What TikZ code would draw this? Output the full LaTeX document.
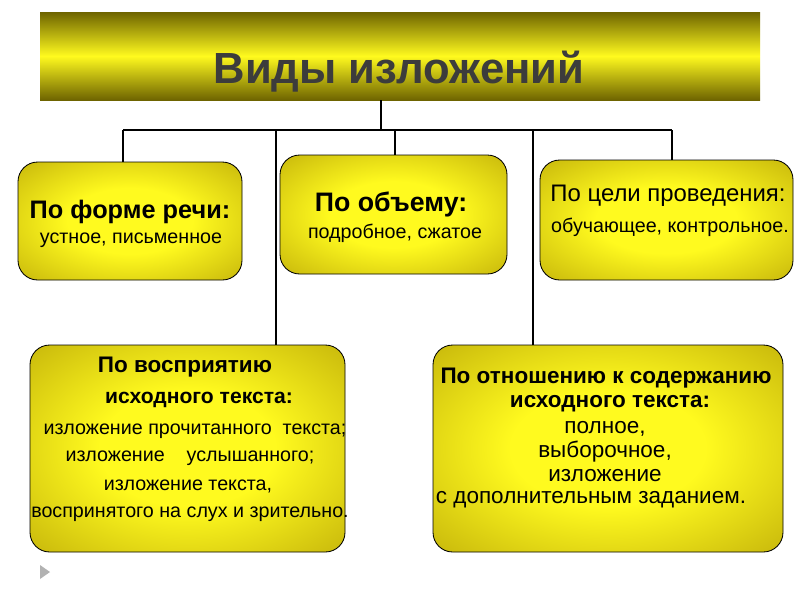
\documentclass[tikz,border=0pt]{standalone}
\usepackage{fontspec}
\setmainfont{Liberation Sans}
\definecolor{goldin}{RGB}{255,250,30}
\definecolor{goldout}{RGB}{110,100,0}
\definecolor{tgray}{RGB}{60,60,60}
\pgfdeclareradialshading{goldrad}{\pgfpoint{0bp}{0bp}}{rgb(0bp)=(1,0.98,0.12); rgb(14bp)=(1,0.98,0.12); rgb(34bp)=(0.80,0.74,0.05); rgb(50bp)=(0.45,0.40,0); rgb(75bp)=(0.38,0.34,0)}
\begin{document}
\begin{tikzpicture}[x=0.025cm,y=-0.025cm,
 box/.style={draw=black,line width=0.6pt,rounded corners=14pt,shading=goldrad},
 hd/.style={font=\bfseries\fontsize{14}{16}\selectfont,text=black},
 tx/.style={font=\fontsize{14}{16}\selectfont,text=black},
 ln/.style={line width=1.4pt}]
\useasboundingbox (0,0) rectangle (800,600);
\fill[white] (0,0) rectangle (800,600);
% title banner
\shade[top color=goldout,bottom color=goldout,middle color=goldin] (40,12) rectangle (760,100);
\node[font=\bfseries\fontsize{31}{34}\selectfont,text=tgray] (title) at (399,72) {Виды изложений};
\coordinate (tb) at (381,100);
\coordinate (tj) at (381,130);
% boxes
\draw[box] (18,162) rectangle (242,280);
\draw[box] (280,155) rectangle (507,274);
\draw[box] (540,160) rectangle (793,280);
\draw[box] (30,345) rectangle (345,552);
\draw[box] (433,345) rectangle (783,552);
% connectors
\draw[ln] (tb) -- (tj);
\draw[ln] (123,130) -- (672,130);
\draw[ln] (123,130) -- (123,162);
\draw[ln] (395,130) -- (395,155);
\draw[ln] (672,130) -- (672,160);
\draw[ln] (276,130) -- (276,345);
\draw[ln] (533,130) -- (533,345);
% texts
\node[hd,font=\bfseries\fontsize{18}{20}\selectfont] (a1) at (130,212) {По форме речи:};
\node[tx] (a2) at (131,240) {устное, письменное};
\node[hd,font=\bfseries\fontsize{19}{21}\selectfont] (b1) at (391,204) {По объему:};
\node[tx] (b2) at (395,233) {подробное, сжатое};
\node[font=\fontsize{17}{19}\selectfont] (c1) at (668,196) {По цели проведения:};
\node[tx] (c2) at (670,227) {обучающее, контрольное.};
\node[font=\bfseries\fontsize{16}{18}\selectfont] (d1) at (185,367) {По восприятию};
\node[font=\bfseries\fontsize{15}{17}\selectfont] (d2) at (199,400) {исходного текста:};
\node[tx] (d3) at (195,431) {изложение прочитанного\ \ текста;};
\node[tx] (d4) at (190,458) {изложение\ \ \ \ услышанного;};
\node[tx] (d5) at (188,486) {изложение текста,};
\node[tx] (d6) at (190,514) {воспринятого на слух и зрительно.};
\node[font=\bfseries\fontsize{16}{18}\selectfont] (e1) at (606,378) {По отношению к содержанию};
\node[font=\bfseries\fontsize{16}{18}\selectfont] (e2) at (610,404) {исходного текста:};
\node[tx,font=\fontsize{16}{18}\selectfont] (e3) at (605,429) {полное,};
\node[tx,font=\fontsize{16}{18}\selectfont] (e4) at (605,452) {выборочное,};
\node[tx,font=\fontsize{16}{18}\selectfont] (e5) at (605,476) {изложение};
\node[tx,font=\fontsize{16}{18}\selectfont] (e6) at (591,500) {с дополнительным заданием.};
\fill[gray!60] (40,565) -- (50,572) -- (40,579) -- cycle;
\end{tikzpicture}
\end{document}
